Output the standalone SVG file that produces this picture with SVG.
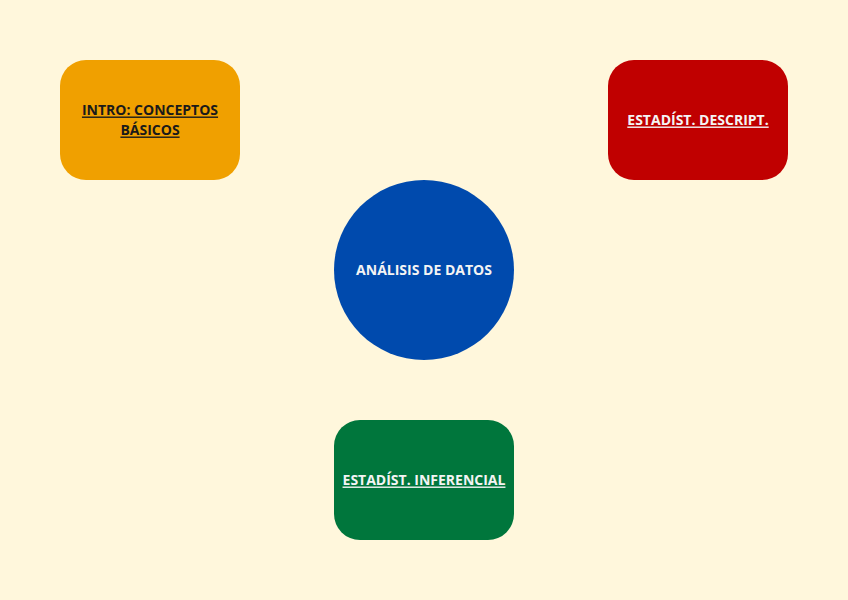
<svg xmlns="http://www.w3.org/2000/svg" width="848" height="600" viewBox="0 0 848 600">
<style>
.lbl{font-family:"Open Sans","Noto Sans","DejaVu Sans",sans-serif;font-weight:bold;font-size:14px;text-anchor:middle;dominant-baseline:central}
.u{text-decoration:underline}
</style>
<rect x="0" y="0" width="848" height="600" fill="#fff7dc"/>
<g id="connectors"></g>
<g id="intro">
<rect x="60" y="60" width="180" height="120" rx="26" fill="#f0a000"/>
<text class="lbl u" x="150" y="109" fill="#1a1a1a">INTRO: CONCEPTOS</text>
<text class="lbl u" x="150" y="129" fill="#1a1a1a">BÁSICOS</text>
</g>
<g id="descript">
<rect x="608" y="60" width="180" height="120" rx="26" fill="#c00000"/>
<text class="lbl u" x="698" y="119" fill="#f4f4f4">ESTADÍST. DESCRIPT.</text>
</g>
<g id="analisis">
<circle cx="424" cy="270" r="90" fill="#004aad"/>
<text class="lbl" x="424" y="269" fill="#f4f4f4">ANÁLISIS DE DATOS</text>
</g>
<g id="inferencial">
<rect x="334" y="420" width="180" height="120" rx="26" fill="#00763c"/>
<text class="lbl u" x="424" y="479" fill="#f4f4f4">ESTADÍST. INFERENCIAL</text>
</g>
</svg>
